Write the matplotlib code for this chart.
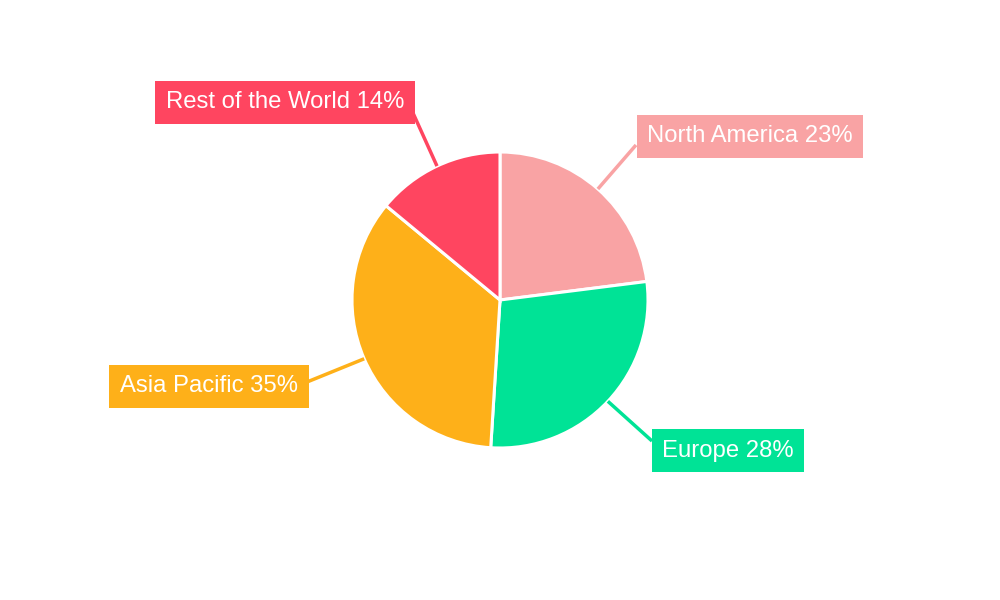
import matplotlib.pyplot as plt
import numpy as np

plt.rcParams['font.family'] = ['Liberation Sans', 'DejaVu Sans']

regions = ['North America', 'Europe', 'Asia Pacific', 'Rest of the World']
shares = [23, 28, 35, 14]
colors = ['#f9a3a4', '#00e396', '#feb019', '#ff4560']

# label anchor (end of leader, in pixel coords with y down) and text centre
label_ends = [(636, 145), (652, 441), (307, 382), (413, 113)]
label_centres = [(750, 136.5), (728, 450.5), (209, 386.5), (285, 102.5)]

fig = plt.figure(figsize=(10, 6), dpi=100)
ax = fig.add_axes([0, 0, 1, 1])
ax.set_xlim(0, 1000)
ax.set_ylim(0, 600)
ax.set_aspect('equal')
ax.axis('off')

cx, cy, r = 500, 300, 148
wedges, _ = ax.pie(shares, colors=colors, startangle=90, counterclock=False,
                   center=(cx, cy), radius=r, frame=True,
                   wedgeprops=dict(edgecolor='white', linewidth=2.2))
ax.set_xlim(0, 1000)
ax.set_ylim(0, 600)
ax.axis('off')

for w, name, share, col, end, ctr in zip(wedges, regions, shares, colors,
                                          label_ends, label_centres):
    mid = np.deg2rad((w.theta1 + w.theta2) / 2)
    sx, sy = cx + r * np.cos(mid), cy + r * np.sin(mid)
    ax.plot([sx, end[0]], [sy, 600 - end[1]], color=col, linewidth=2.5,
            solid_capstyle='butt', zorder=1)
    ax.text(ctr[0], 600 - ctr[1], f'{name} {share}%', fontsize=17.2,
            color='white', ha='center', va='center', zorder=3,
            bbox=dict(boxstyle='square,pad=0.44', facecolor=col, edgecolor='none'))

fig.savefig('out.png', dpi=100, facecolor='white')
